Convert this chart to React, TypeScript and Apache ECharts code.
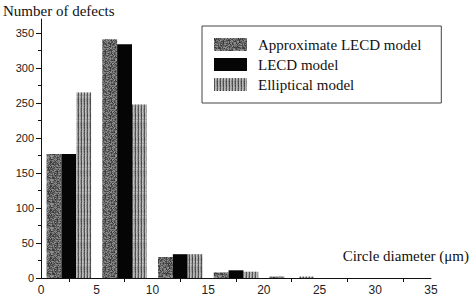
import React, { useEffect, useRef } from "react";
import * as echarts from "echarts";

// Histogram bins (bin centres, µm) and defect counts per model
const binCentres = [2.5, 7.5, 12.5, 17.5, 22.5];
const approxLecdCounts = [177, 341, 30, 8, 2];
const lecdCounts = [177, 334, 34, 11, 0];
const ellipticalCounts = [265, 248, 34, 9, 2];

const xTickLabels = [0, 5, 10, 15, 20, 25, 30, 35];
const xTickMarks = [2.5, 7.5, 12.5, 17.5, 22.5, 27.5, 32.5];
const yTickLabels = [0, 50, 100, 150, 200, 250, 300, 350];
const yMinorTicks = [25, 75, 125, 175, 225, 275, 325];

const seriesNames = ["Approximate LECD model", "LECD model", "Elliptical model"];

// small deterministic hash for a grainy texture
function grain(x: number, y: number): number {
  let h = (x * 374761393 + y * 668265263) | 0;
  h = (h ^ (h >>> 13)) * 1274126177;
  h = h ^ (h >>> 16);
  return ((h >>> 0) % 1000) / 1000;
}

function makeSpeckle(): HTMLCanvasElement {
  const c = document.createElement("canvas");
  c.width = 24;
  c.height = 24;
  const ctx = c.getContext("2d")!;
  for (let y = 0; y < c.height; y++) {
    for (let x = 0; x < c.width; x++) {
      const g = Math.round(50 + grain(x, y) * 100);
      ctx.fillStyle = `rgb(${g},${g},${g})`;
      ctx.fillRect(x, y, 1, 1);
    }
  }
  return c;
}

function makeStripes(): HTMLCanvasElement {
  const c = document.createElement("canvas");
  c.width = 3;
  c.height = 24;
  const ctx = c.getContext("2d")!;
  for (let y = 0; y < c.height; y++) {
    for (let x = 0; x < c.width; x++) {
      const base = x === 0 ? 80 : x === 1 ? 185 : 160;
      const g = Math.round(base + (grain(x + 7, y) - 0.5) * 40);
      ctx.fillStyle = `rgb(${g},${g},${g})`;
      ctx.fillRect(x, y, 1, 1);
    }
  }
  return c;
}

export default function App() {
  const ref = useRef<HTMLDivElement>(null);

  useEffect(() => {
    if (!ref.current) return;
    document.body.style.margin = "0";
    const chart = echarts.init(ref.current, null, { renderer: "svg" });

    const speckle = { image: makeSpeckle(), repeat: "repeat" };
    const stripes = { image: makeStripes(), repeat: "repeat" };
    const fills: any[] = [speckle, "#050505", stripes];
    const counts = [approxLecdCounts, lecdCounts, ellipticalCounts];

    const xMin = 0;
    const xMax = 35;
    const gridLeft = 41;
    const gridRight = 43;
    const plotWidth = 474 - gridLeft - gridRight;
    const binWidthPx = (4 / (xMax - xMin)) * plotWidth;
    const barPx = binWidthPx / 3;

    const tickFont = {
      fontFamily: "Liberation Sans, Arial, sans-serif",
      color: "#222",
    };

    chart.setOption({
      animation: false,
      backgroundColor: "#fff",
      grid: { left: gridLeft, right: gridRight, top: 19, bottom: 19 },
      legend: {
        orient: "vertical",
        left: 202,
        top: 26,
        padding: [11, 20, 11, 12],
        itemWidth: 33,
        itemHeight: 13,
        itemGap: 5,
        borderColor: "#444",
        borderWidth: 1,
        data: seriesNames,
        icon: "rect",
        textStyle: {
          fontFamily: "Liberation Serif, Times New Roman, serif",
          fontSize: 15,
          color: "#111",
          padding: [0, 0, 0, 6],
        },
      },
      xAxis: {
        type: "value",
        min: xMin,
        max: xMax,
        interval: 5,
        splitLine: { show: false },
        axisLine: { lineStyle: { color: "#111", width: 1 } },
        axisTick: {
          show: true,
          customValues: xTickMarks,
          length: 4,
          lineStyle: { color: "#111" },
        },
        axisLabel: { ...tickFont, fontSize: 12, margin: 6, customValues: xTickLabels },
      },
      yAxis: [
        {
          type: "value",
          min: 0,
          max: 370,
          splitLine: { show: false },
          axisLine: { show: true, lineStyle: { color: "#111", width: 1 } },
          axisTick: {
            show: true,
            customValues: yTickLabels,
            length: 5,
            lineStyle: { color: "#111" },
          },
          axisLabel: {
            ...tickFont,
            fontSize: 11,
            margin: 7,
            customValues: yTickLabels,
          },
        },
        {
          type: "value",
          min: 0,
          max: 370,
          position: "left",
          splitLine: { show: false },
          axisLine: { show: false },
          axisTick: {
            show: true,
            customValues: yMinorTicks,
            length: 3,
            lineStyle: { color: "#111" },
          },
          axisLabel: { show: false },
        },
      ],
      series: seriesNames.map((name, i) => ({
        name,
        type: "bar",
        barWidth: barPx,
        barGap: "0%",
        itemStyle: { color: fills[i] },
        data: binCentres.map((x, k) => [x, counts[i][k]]),
      })),
      graphic: [
        {
          type: "text",
          left: 3,
          top: 3,
          style: {
            text: "Number of defects",
            font: '15px "Liberation Serif", "Times New Roman", serif',
            fill: "#111",
          },
        },
        {
          type: "text",
          right: 5,
          top: 248,
          style: {
            text: "Circle diameter (\u03bcm)",
            font: '15px "Liberation Serif", "Times New Roman", serif',
            fill: "#111",
          },
        },
      ],
    });

    return () => chart.dispose();
  }, []);

  return (
    <div
      ref={ref}
      style={{ position: "absolute", left: 0, top: 0, width: 474, height: 297 }}
    />
  );
}
